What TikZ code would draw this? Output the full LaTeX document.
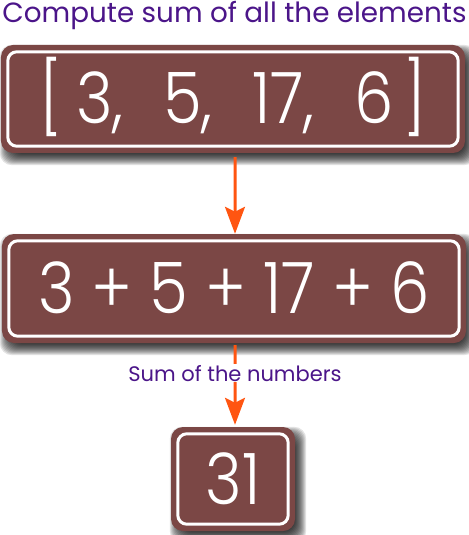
\documentclass[tikz,border=0pt]{standalone}
\usepackage{fontspec}
\setmainfont{Poppins}
\IfFontExistsTF{Poppins Light}{\newfontfamily\digitfont{Poppins Light}}{\newfontfamily\digitfont{Poppins}}
\usetikzlibrary{arrows.meta}
\definecolor{boxbrown}{HTML}{7B4745}
\definecolor{titlepurple}{HTML}{4B1589}
\definecolor{arroworange}{HTML}{FF5511}
\newcommand\panelshadow[1]{%
  \foreach \k in {0,...,11}{%
    \fill[black,opacity=0.11,rounded corners=12bp]
      ([shift={(-1+\k,0+\k)}]#1.north west) rectangle ([shift={(11-\k,12-\k)}]#1.south east);
  }}
\newcommand\panelline[1]{%
  \draw[white,line width=3bp,rounded corners=9bp]
    ([shift={(7,7)}]#1.north west) rectangle ([shift={(-7,-7)}]#1.south east);}
\newcommand\narrow[1]{\scalebox{0.88}[1]{#1}}
\tikzset{
  panel/.style={fill=boxbrown,rounded corners=12bp,inner sep=0pt,text=white,
    font=\digitfont\fontsize{71bp}{71bp}\selectfont,text height=50bp,text depth=0bp},
  flow/.style={draw=arroworange,line width=3bp,
    -{Stealth[length=27bp,width=20bp,inset=5bp]}},
  caption/.style={text=titlepurple},
}
\begin{document}
\begin{tikzpicture}[x=1bp,y=-1bp]
\useasboundingbox (0,0) rectangle (469,535);
\node[caption,anchor=base,font=\fontsize{27.8bp}{28bp}\selectfont] (title) at (234.5,23) {Compute sum of all the elements};
% boxes
\node[panel,minimum width=464bp,minimum height=108bp,draw=none,fill=none] (b1) at (233,99) {};
\node[panel,minimum width=464bp,minimum height=109bp,draw=none,fill=none] (b2) at (233,288.5) {};
\node[panel,minimum width=124bp,minimum height=104bp,draw=none,fill=none] (b3) at (233,479) {};
\panelshadow{b1}\panelshadow{b2}\panelshadow{b3}
\node[panel,minimum width=464bp,minimum height=108bp] (p1) at (233,99) {\narrow{[\hspace{16bp}3,\hspace{45bp}5,\hspace{45bp}17,\hspace{45bp}6\hspace{12bp}]}};
\node[panel,minimum width=464bp,minimum height=109bp] (p2) at (234,288.5) {\narrow{3 + 5 + 17 + 6}};
\node[panel,minimum width=124bp,minimum height=104bp] (p3) at (233,479) {\narrow{31}};
\panelline{p1}\panelline{p2}\panelline{p3}
% connectors
\draw[flow,shorten <=4bp] ([xshift=2bp]p1.south) -- ([xshift=1bp]p2.north);
\draw[flow,shorten <=2bp,shorten >=2bp] ([xshift=1bp]p2.south) -- node[pos=0.36,fill=white,inner sep=1bp,caption,font=\fontsize{21bp}{21bp}\selectfont] (lab) {Sum of the numbers} ([xshift=2bp]p3.north);
\end{tikzpicture}
\end{document}
